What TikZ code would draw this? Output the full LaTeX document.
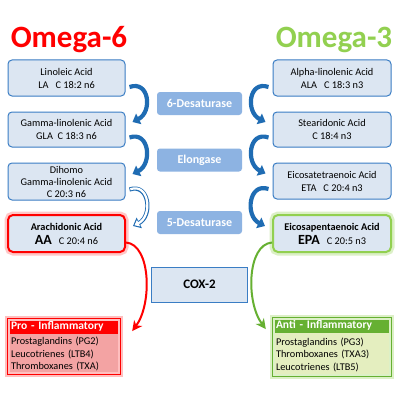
\documentclass[tikz,border=0pt]{standalone}
\usepackage{fontspec}
\setmainfont{Carlito}
\usetikzlibrary{arrows.meta}
\definecolor{boxfill}{HTML}{DCE6F2}
\definecolor{boxline}{HTML}{3A7DC4}
\definecolor{enzfill}{HTML}{8DB3E2}
\definecolor{arrblue}{HTML}{1F6CB3}
\definecolor{omred}{HTML}{FF0000}
\definecolor{omgreen}{HTML}{92D050}
\definecolor{antihead}{HTML}{66B032}
\definecolor{antibody}{HTML}{E4EEBF}
\definecolor{probody}{HTML}{F3A3A3}
\begin{document}
\begin{tikzpicture}[x=1pt,y=1pt,
  acid/.style={draw=boxline, fill=boxfill, line width=1pt, rounded corners=4pt,
    minimum width=117pt, minimum height=36pt, align=center,
    font=\fontsize{10.3}{13}\selectfont, inner sep=0pt},
  keyacid/.style={acid, line width=2pt, rounded corners=5pt},
  enz/.style={fill=enzfill, rounded corners=3pt, minimum width=85pt, minimum height=23pt,
    inner sep=0pt, text=white, font=\fontsize{12}{13}\selectfont\bfseries},
  title/.style={font=\fontsize{31}{33}\selectfont\bfseries, inner sep=0pt},
  headbox/.style={minimum height=15pt, inner sep=0pt, inner xsep=3pt, text=white,
    font=\fontsize{11.5}{12}\selectfont\bfseries, anchor=south west, text width=106pt, align=left},
  bodybox/.style={minimum height=40pt, inner sep=0pt, inner xsep=3pt, text width=106pt, align=left,
    font=\fontsize{10.3}{12.5}\selectfont},
  blu/.style={draw=arrblue, line width=4.2pt, -{Triangle[length=7pt,width=11.5pt]}},
  hol/.style={draw=white, line width=2.2pt, -{Triangle[length=4.5pt,width=7pt]}, shorten >=1.7pt, shorten <=0.9pt}
]
\useasboundingbox (0,0) rectangle (400,-404);
\fill[white] (0,0) rectangle (400,-404);

% titles
\node[title, text=omred] (t6) at (69,-40) {Omega-6};
\node[title, text=omgreen] (t3) at (334,-40) {Omega-3};

% omega-6 column
\node[acid] (la) at (66.5,-78) {Linoleic Acid\\LA\ \ \ C 18:2 n6};
\node[acid, minimum height=35pt] (gla) at (66.5,-129.5) {Gamma-linolenic Acid\\GLA\ \ C 18:3 n6};
\node[acid, minimum height=37pt, font=\fontsize{10.3}{12}\selectfont] (dgla) at (66.5,-181.5) {Dihomo\\Gamma-linolenic Acid\\C 20:3 n6};
\node[keyacid, draw=omred, minimum height=37pt, preaction={draw=omred!22, line width=7pt}] (aa) at (66.5,-233.5)
  {\textbf{Arachidonic Acid}\\[1pt]{\fontsize{14}{14}\selectfont\bfseries AA}\ \ \ C 20:4 n6};

% omega-3 column
\node[acid, minimum width=118pt] (ala) at (332,-78) {Alpha-linolenic Acid\\ALA\ \ \ C 18:3 n3};
\node[acid, minimum width=118pt, minimum height=35pt] (sda) at (332,-129.5) {Stearidonic Acid\\C 18:4 n3};
\node[acid, minimum width=118pt] (eta) at (332,-181) {Eicosatetraenoic Acid\\ETA\ \ \ C 20:4 n3};
\node[keyacid, draw=omgreen, minimum width=118pt, minimum height=37pt, preaction={draw=omgreen!32, line width=7pt}] (epa) at (332,-233.5)
  {\textbf{Eicosapentaenoic Acid}\\[1pt]{\fontsize{14}{14}\selectfont\bfseries EPA}\ \ \ C 20:5 n3};

% enzymes
\node[enz] (d6) at (199.5,-103.5) {6-Desaturase};
\node[enz] (elo) at (199.5,-160) {Elongase};
\node[enz] (d5) at (199.5,-222.5) {5-Desaturase};
\node[draw=boxline, fill=boxfill, line width=1pt, minimum width=96pt, minimum height=35pt,
  font=\fontsize{13}{14}\selectfont\bfseries] (cox) at (199.5,-284.5) {COX-2};

% outcome boxes
\node[bodybox, fill=probody, minimum width=112pt] (pro) at (64,-354)
  {Prostaglandins (PG2)\\Leucotrienes (LTB4)\\Thromboxanes (TXA)};
\node[headbox, fill=omred] (proh) at (pro.north west) {Pro - Inflammatory};
\draw[omred!25, line width=5pt] (proh.north west) rectangle (pro.south east);
\draw[omred, line width=1pt] (proh.north west) rectangle (pro.south east);

\node[bodybox, fill=antibody, text width=112pt, minimum height=43pt] (anti) at (332,-354.5)
  {Prostaglandins (PG3)\\Thromboxanes (TXA3)\\Leucotrienes (LTB5)};
\node[headbox, fill=antihead, text width=112pt] (antih) at (anti.north west) {Anti - Inflammatory};
\draw[omgreen!32, line width=5pt] (antih.north west) rectangle (anti.south east);
\draw[antihead, line width=1pt] (antih.north west) rectangle (anti.south east);

% blue arrows, omega-6 side
\draw[blu] ([xshift=4pt,yshift=-9pt]la.east) .. controls +(20,7) and +(20,10) .. ([xshift=7pt,yshift=7.5pt]gla.east);
\draw[blu] ([xshift=4pt,yshift=-8pt]gla.east) .. controls +(20,7) and +(20,10) .. ([xshift=7pt,yshift=7.5pt]dgla.east);
\draw[blu] ([xshift=4pt,yshift=-8pt]dgla.east) .. controls +(20,7) and +(20,10) .. ([xshift=7pt,yshift=7.5pt]aa.east);
\draw[hol] ([xshift=4pt,yshift=-8pt]dgla.east) .. controls +(20,7) and +(20,10) .. ([xshift=7pt,yshift=7.5pt]aa.east);

% blue arrows, omega-3 side
\draw[blu] ([xshift=-4pt,yshift=-9pt]ala.west) .. controls +(-20,7) and +(-20,10) .. ([xshift=-7pt,yshift=7.5pt]sda.west);
\draw[blu] ([xshift=-4pt,yshift=-8pt]sda.west) .. controls +(-20,7) and +(-20,10) .. ([xshift=-7pt,yshift=7.5pt]eta.west);
\draw[blu] ([xshift=-4pt,yshift=-8pt]eta.west) .. controls +(-20,7) and +(-20,10) .. ([xshift=-7pt,yshift=7.5pt]epa.west);

% COX-2 arrows
\draw[omred, line width=2pt, -{Stealth[length=10pt,width=10pt,inset=3pt]}]
  ([yshift=-9pt]aa.east) .. controls +(25,-2) and +(20,27) .. ([xshift=12pt,yshift=-5pt]proh.east);
\draw[antihead, line width=2pt, -{Stealth[length=10pt,width=10pt,inset=3pt]}]
  ([yshift=-9pt]epa.west) .. controls +(-25,-2) and +(-20,27) .. ([xshift=-7pt,yshift=-4pt]antih.west);
\end{tikzpicture}
\end{document}
